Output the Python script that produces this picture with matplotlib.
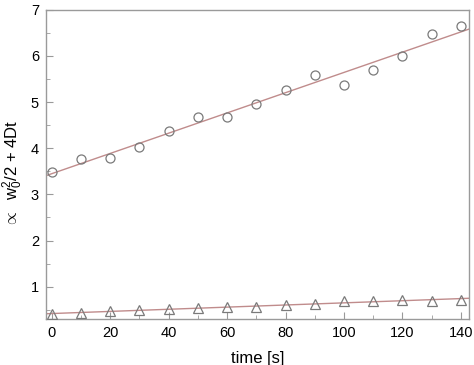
import numpy as np
import matplotlib
matplotlib.use("Agg")
import matplotlib.pyplot as plt
from matplotlib.ticker import MultipleLocator

# ---- data ----
time_s = [0, 10, 20, 30, 40, 50, 60, 70, 80, 90, 100, 110, 120, 130, 140]
upper = [3.48, 3.77, 3.80, 4.03, 4.37, 4.67, 4.68, 4.95, 5.27, 5.58,
         5.38, 5.70, 6.00, 6.47, 6.64]
lower = [0.41, 0.43, 0.47, 0.50, 0.51, 0.53, 0.56, 0.57, 0.60, 0.62,
         0.69, 0.70, 0.71, 0.69, 0.72]
x_ticks = [0, 20, 40, 60, 80, 100, 120, 140]
y_ticks = [1, 2, 3, 4, 5, 6, 7]

plt.rcParams['font.family'] = ['Liberation Sans', 'DejaVu Sans']
plt.rcParams['mathtext.fontset'] = 'custom'
plt.rcParams['mathtext.rm'] = 'Liberation Sans'
plt.rcParams['mathtext.it'] = 'Liberation Sans'

fig = plt.figure(figsize=(4.74, 3.65), dpi=100)
ax = fig.add_axes([0.097, 0.126, 0.892, 0.847])

spine_col = '#9a9a9a'
fit_col = '#c08c8c'
mk_col = '#7a7a7a'

t = np.array(time_s, dtype=float)
tt = np.array([-2.0, 142.7])
for ys in (upper, lower):
    k, b = np.polyfit(t, ys, 1)
    ax.plot(tt, k * tt + b, color=fit_col, lw=1.0, zorder=2)

ax.plot(time_s, upper, 'o', ms=6.5, mfc='none', mec=mk_col, mew=0.9, zorder=3)
ax.plot(time_s, lower, '^', ms=7.5, mfc='none', mec=mk_col, mew=0.9, zorder=3)

ax.set_xlim(-2, 142.7)
ax.set_ylim(0.3, 7)
ax.set_xticks(x_ticks)
ax.set_yticks(y_ticks)
ax.xaxis.set_minor_locator(MultipleLocator(10))
ax.yaxis.set_minor_locator(MultipleLocator(0.5))
ax.tick_params(which='both', direction='in', color=spine_col,
               top=False, right=False, labelsize=10.5, pad=5)
ax.tick_params(which='major', length=5)
ax.tick_params(which='minor', length=3)
for s in ax.spines.values():
    s.set_color(spine_col)
    s.set_linewidth(1.0)

ax.set_xlabel('time [s]', fontsize=12, labelpad=8)
ax.set_ylabel(r'$\propto$  w$_0^2$/2 + 4Dt', fontsize=12)
ax.yaxis.set_label_coords(-0.05, 0.47)

fig.savefig('out.png', dpi=100)
